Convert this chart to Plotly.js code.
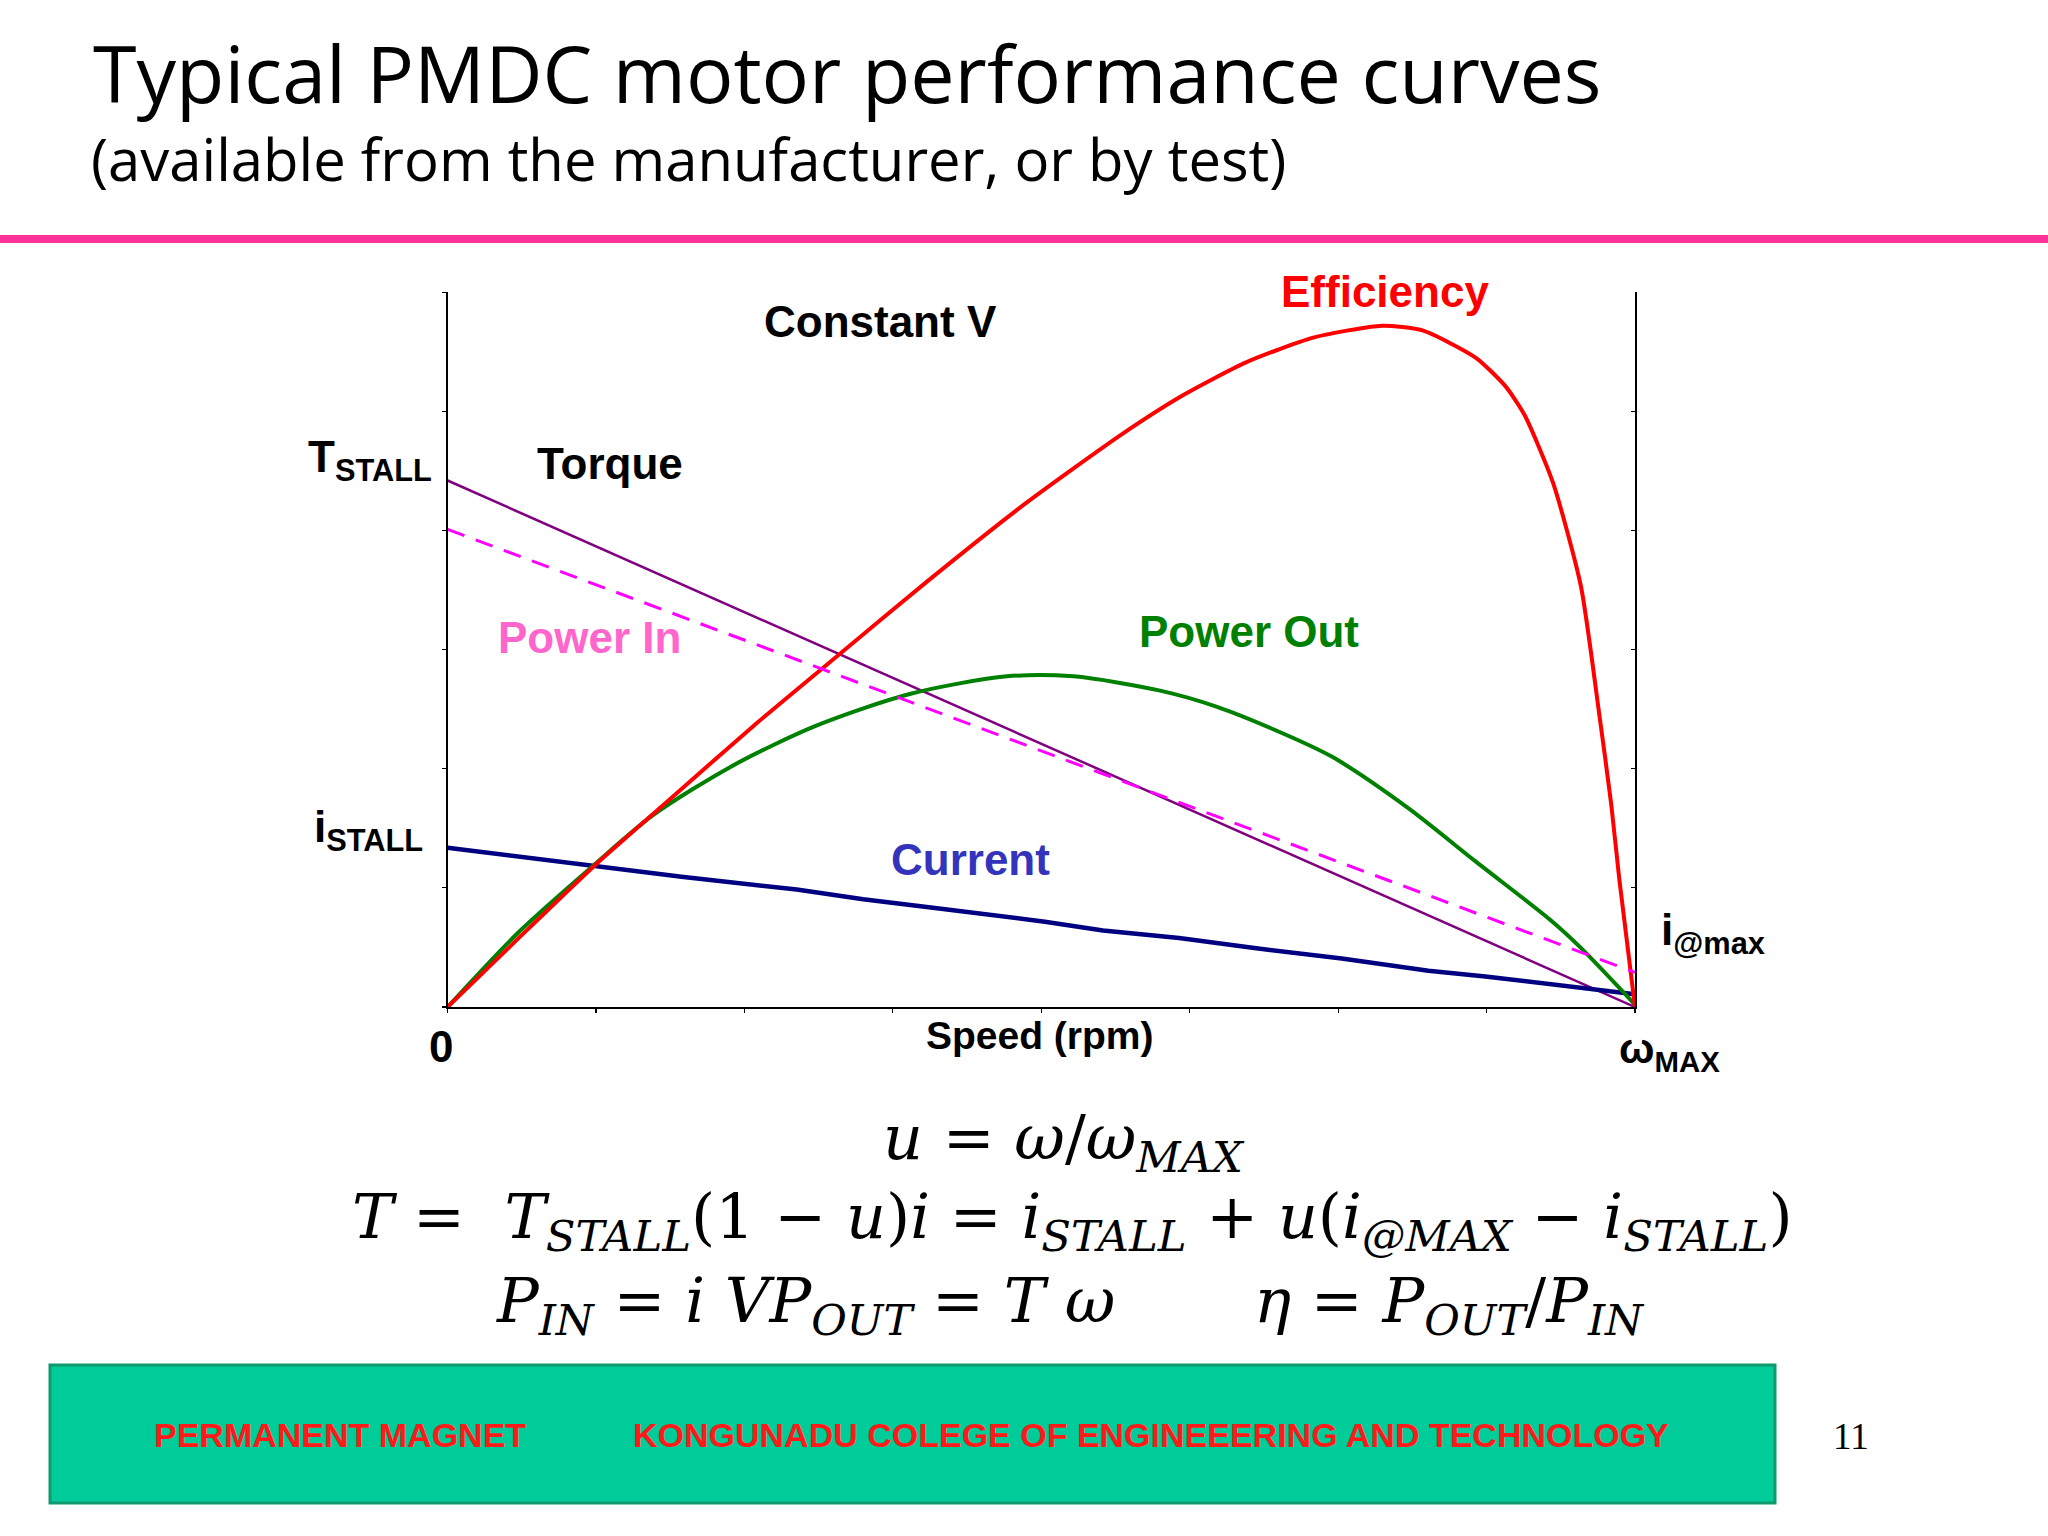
<!DOCTYPE html>
<html><head><meta charset="utf-8">
<script src="https://cdn.plot.ly/plotly-3.0.1.min.js"></script>
<style>html,body{margin:0;padding:0;background:#fff;}#chart{width:2048px;height:1536px;}</style>
</head><body><div id="chart"></div>
<script>
const W = 2048, H = 1536;

// ---- data (speed as fraction of wMAX, values in axis units 0..6) ----
const speedLine = [0, 1];
const torque = [4.42, 0];
const powerIn = [4.01, 0.29];

const speedCurrent = [0, 0.124, 0.197, 0.294, 0.35, 0.407, 0.471, 0.503, 0.552, 0.616, 0.681, 0.753, 0.826, 0.874, 1];
const current = [1.337, 1.187, 1.093, 0.986, 0.904, 0.836, 0.76, 0.716, 0.643, 0.579, 0.493, 0.407, 0.304, 0.257, 0.107];

const speedPowerOut = [0, 0.06, 0.123, 0.173, 0.239, 0.31, 0.39, 0.471, 0.527, 0.6, 0.648, 0.705, 0.745, 0.809, 0.866, 0.93, 0.954, 1];
const powerOut = [0, 0.63, 1.19, 1.61, 2.02, 2.36, 2.63, 2.776, 2.776, 2.656, 2.52, 2.29, 2.10, 1.67, 1.22, 0.72, 0.50, 0.02];

const speedEff = [0, 0.06, 0.123, 0.181, 0.26, 0.331, 0.406, 0.487, 0.568, 0.62, 0.672, 0.729, 0.787, 0.821, 0.866, 0.891, 0.907, 0.931, 0.9545, 0.97, 0.98, 0.9868, 1];
const efficiency = [0, 0.58, 1.18, 1.69, 2.38, 2.97, 3.59, 4.23, 4.81, 5.14, 5.41, 5.62, 5.72, 5.68, 5.45, 5.21, 4.97, 4.40, 3.53, 2.45, 1.7, 1.07, 0];

// ---- text ----
const titleText = 'Typical PMDC motor performance curves';
const subtitleText = '(available from the manufacturer, or by test)';
const footerLeft = 'PERMANENT MAGNET';
const footerRight = 'KONGUNADU COLEGE OF ENGINEEERING AND TECHNOLOGY';
const pageNo = '11';

const px = x => x / W;
const py = y => 1 - y / H;

const traces = [
  {x: speedLine, y: torque, mode: 'lines', line: {color: '#800080', width: 2.5}, name: 'Torque'},
  {x: speedLine, y: powerIn, mode: 'lines', yaxis: 'y2', line: {color: '#ff00ff', width: 3, dash: '18px,12px'}, name: 'Power In'},
  {x: speedCurrent, y: current, mode: 'lines', line: {color: '#000080', width: 4.5}, name: 'Current'},
  {x: speedPowerOut, y: powerOut, mode: 'lines', line: {color: '#008000', width: 4, shape: 'spline', smoothing: 0.8}, name: 'Power Out'},
  {x: speedEff, y: efficiency, mode: 'lines', line: {color: '#ff0000', width: 4, shape: 'spline', smoothing: 0.6}, name: 'Efficiency'}
];

const LBL = 'Liberation Sans, Arial, sans-serif';
function ann(text, x, y, size, color, opts) {
  return Object.assign({
    text: text, x: px(x), y: py(y), xref: 'paper', yref: 'paper',
    showarrow: false, xanchor: 'center', yanchor: 'middle',
    font: {family: LBL, size: size, color: color}
  }, opts || {});
}
const EQ = 'DejaVu Serif, serif';
const eqFont = {family: EQ, size: 62, color: '#000'};

const annotations = [
  ann(titleText, 91, 72, 79, '#000', {xanchor: 'left', font: {family: 'Open Sans, sans-serif', size: 79, color: '#000'}}),
  ann(subtitleText, 89, 158, 58, '#000', {xanchor: 'left', font: {family: 'Open Sans, sans-serif', size: 58, color: '#000'}}),

  ann('<b>Constant V</b>', 880, 321, 44, '#000'),
  ann('<b>Efficiency</b>', 1385, 291, 44, '#ff0000'),
  ann('<b>Torque</b>', 610, 463, 44, '#000'),
  ann('<b>Power In</b>', 589, 638, 44, '#ff66cc'),
  ann('<b>Power Out</b>', 1249, 631, 44, '#008000'),
  ann('<b>Current</b>', 970, 859, 44, '#3333bb'),
  ann('<b>0</b>', 441, 1046, 44, '#000'),
  ann('<b>Speed (rpm)</b>', 1040, 1035, 39, '#000'),
  ann('<b>T<sub>STALL</sub></b>', 306, 460, 44, '#000', {xanchor: 'left'}),
  ann('<b>i<sub>STALL</sub></b>', 312, 830, 44, '#000', {xanchor: 'left'}),
  ann('<b>i<sub>@max</sub></b>', 1659, 933, 44, '#000', {xanchor: 'left'}),
  ann('<b>ω<sub>MAX</sub></b>', 1617, 1051, 42, '#000', {xanchor: 'left'}),

  Object.assign(ann('<i>u</i> = <i>ω</i>/<i>ω</i><sub><i>MAX</i></sub>', 1064, 1141, 62, '#000'), {font: eqFont}),
  Object.assign(ann('<i>T</i> =  <i>T</i><sub><i>STALL</i></sub>(1 − <i>u</i>)<i>i</i> = <i>i</i><sub><i>STALL</i></sub> + <i>u</i>(<i>i</i><sub><i>@MAX</i></sub> − <i>i</i><sub><i>STALL</i></sub>)', 1072, 1220, 62, '#000'), {font: eqFont}),
  Object.assign(ann('<i>P</i><sub><i>IN</i></sub> = <i>i V</i><i>P</i><sub><i>OUT</i></sub> = <i>T ω</i>', 805, 1304, 62, '#000'), {font: eqFont}),
  Object.assign(ann('<i>η</i> = <i>P</i><sub><i>OUT</i></sub>/<i>P</i><sub><i>IN</i></sub>', 1449, 1304, 62, '#000'), {font: eqFont}),

  ann('<b>' + footerLeft + '</b>', 340, 1435, 34, '#ff1a1a'),
  ann('<b>' + footerRight + '</b>', 1151, 1435, 34, '#ff1a1a'),
  ann(pageNo, 1851, 1436, 37, '#000', {font: {family: 'Liberation Serif, serif', size: 37, color: '#000'}})
];

const shapes = [
  {type: 'rect', xref: 'paper', yref: 'paper', x0: 0, x1: 1, y0: py(243), y1: py(235), fillcolor: '#ff3399', line: {width: 0}, layer: 'below'},
  {type: 'rect', xref: 'paper', yref: 'paper', x0: px(50), x1: px(1775), y0: py(1503), y1: py(1365), fillcolor: '#00cc99', line: {color: '#10996f', width: 3}, layer: 'below'}
];

const axBase = {showgrid: false, zeroline: false, showline: true, linecolor: '#000', linewidth: 1.5,
  ticklen: 4, tickwidth: 1.2, tickcolor: '#000', showticklabels: false, fixedrange: true};

const layout = {
  width: W, height: H,
  margin: {l: 0, r: 0, t: 0, b: 0, pad: 0},
  paper_bgcolor: '#fff', plot_bgcolor: '#fff',
  showlegend: false, hovermode: false,
  xaxis: Object.assign({}, axBase, {domain: [px(447.6), px(1635)], range: [0, 1], dtick: 0.125, tick0: 0, ticks: 'outside'}),
  yaxis: Object.assign({}, axBase, {domain: [py(1007), py(292.3)], range: [0, 6], dtick: 1, tick0: 0, ticks: 'outside'}),
  yaxis2: Object.assign({}, axBase, {overlaying: 'y', side: 'right', anchor: 'x', range: [0, 6], dtick: 1, tick0: 0, ticks: 'inside'}),
  annotations: annotations,
  shapes: shapes
};

Plotly.newPlot('chart', traces, layout, {displayModeBar: false, staticPlot: true});
</script></body></html>
